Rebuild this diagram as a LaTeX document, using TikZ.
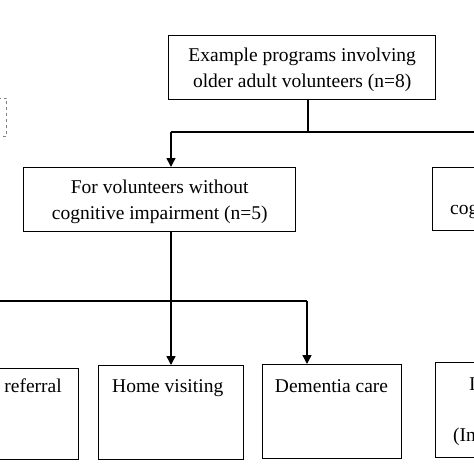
\documentclass[tikz,border=0pt]{standalone}
\usepackage{fontspec}
\setmainfont{Liberation Serif}
\usetikzlibrary{arrows.meta,positioning,calc}
\tikzset{
    box/.style={draw, line width=1.4pt, inner sep=0pt, anchor=north west},
    txt/.style={inner sep=0pt, font=\fontsize{19.5}{26}\selectfont, align=center},
    ln/.style={line width=1.4pt},
    arr/.style={line width=1.4pt, -{Triangle[length=9pt,width=9pt]}}
}
\begin{document}
\begin{tikzpicture}[x=1pt,y=-1pt]
  \useasboundingbox (0,0) rectangle (474,474);
  \clip (0,0) rectangle (474,474);

  % Dashed note at the left edge
    \node[draw=gray, dashed, line width=0.8pt, inner sep=0pt, anchor=north east,
      minimum width=40pt, minimum height=38pt] (note) at (7,98) {};

  % Boxes
    \node[box, minimum width=267pt, minimum height=64pt] (prog) at (168,35) {};
    \node[txt] (progT) at ($(prog.center)+(0,2.5)$)
      {Example programs involving\\older adult volunteers (n=8)};
    \node[box, minimum width=272pt, minimum height=64pt] (nocog) at (23,167) {};
    \node[txt] (nocogT) at ($(nocog.center)+(0,2.5)$)
      {For volunteers without\\cognitive impairment (n=5)};
    \node[box, minimum width=200pt, minimum height=63pt] (cog) at (432,167) {};
    \node[txt, anchor=base west] (cogT) at (450,214) {cog};

    \node[box, minimum width=138pt, minimum height=91pt] (refer) at (-60,368) {};
    \node[box, minimum width=145pt, minimum height=94pt] (home) at (98,365) {};
    \node[box, minimum width=139pt, minimum height=94pt] (dem) at (262,364) {};
    \node[box, minimum width=150pt, minimum height=95pt] (inter) at (435,362) {};

    \node[txt, anchor=base east] (referT) at (62,392) {referral};
    \node[txt, anchor=base west] (homeT) at (112,392) {Home visiting};
    \node[txt, anchor=base] (demT) at (331.5,392) {Dementia care};
    \node[txt, anchor=base west] (interT) at (469,390) {I};
    \node[txt, anchor=base west] (interB) at (453,441) {(In};

  % Connectors
    \coordinate (split) at (308,132);
    \coordinate (busL) at (171,132);
    \coordinate (busR) at (490,132);
    \draw[ln] (prog.south -| split) -- (split);
    \draw[ln] (busL) -- (busR);
    \draw[arr] (busL) -- (busL |- nocog.north);

    \coordinate (split2) at (171,301);
    \coordinate (bus2L) at (-10,301);
    \coordinate (bus2R) at (307,301);
    \draw[ln] (nocog.south -| split2) -- (split2);
    \draw[arr] (split2) -- (split2 |- home.north);
    \draw[ln] (bus2L) -- (bus2R);
    \draw[arr] (bus2R) -- (bus2R |- dem.north);
\end{tikzpicture}
\end{document}
